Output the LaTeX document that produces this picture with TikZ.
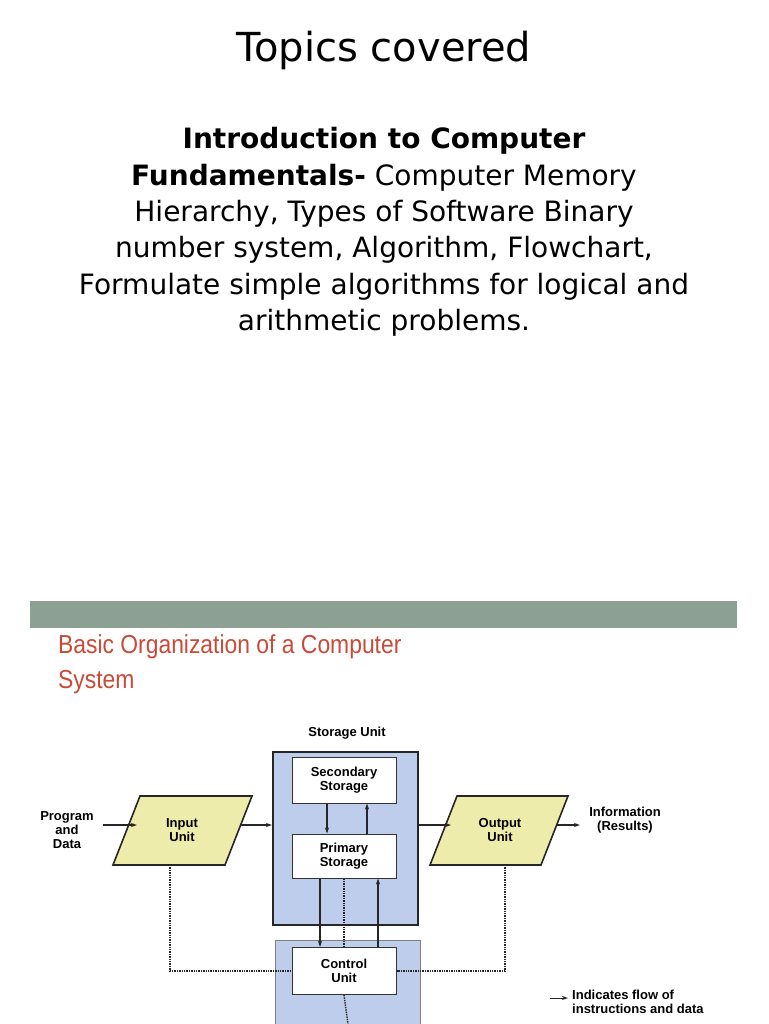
\documentclass[tikz,border=0pt]{standalone}
\usepackage{fontspec}
\setmainfont{DejaVu Sans}
\newfontfamily\ars{Liberation Sans}
\usetikzlibrary{arrows.meta,shapes.geometric}
\definecolor{bar}{RGB}{141,160,148}
\definecolor{ttl}{RGB}{200,75,55}
\definecolor{sblue}{RGB}{190,205,235}
\definecolor{yel}{RGB}{238,236,170}
\begin{document}
\begin{tikzpicture}[x=1pt,y=-1pt,
  lbl/.style={font=\ars\bfseries\fontsize{13}{14}\selectfont,align=center,inner sep=0pt},
  box/.style={draw=black!80,line width=1pt,fill=white},
  para/.style={draw=black!85,line width=1.6pt,fill=yel},
  fl/.style={-{Stealth[length=6pt,width=4pt]},line width=1.2pt,black!85},
  dt/.style={densely dotted,line width=1.4pt,black!85}]
\useasboundingbox (0,0) rectangle (768,1024);
\node (h) at (384,50) {\fontsize{40}{44}\selectfont Topics covered};
\node[align=center,font=\fontsize{28}{36.3}\selectfont] (body) at (384,232)
 {\textbf{Introduction to Computer}\\\textbf{Fundamentals-} Computer Memory\\Hierarchy, Types of Software Binary\\number system, Algorithm, Flowchart,\\Formulate simple algorithms for logical and\\arithmetic problems.};
\fill[bar] (30,601) rectangle (737,628);
\node[anchor=west,align=left,text=ttl,font=\ars\fontsize{26}{35}\selectfont,xscale=0.88] (t) at (55,664) {Basic Organization of a Computer\\System};
% storage
\node[lbl] (su) at (347,733) {Storage Unit};
\draw[fill=sblue,draw=black!85,line width=2pt] (273,752) rectangle (418,925);
\node[box,minimum width=104pt,minimum height=46pt,lbl] (sec) at (344,780) {Secondary\\Storage};
\node[box,minimum width=104pt,minimum height=44pt,lbl] (pri) at (344,856) {Primary\\Storage};
\draw[fill=sblue,draw=black!50,line width=1pt] (275,940) -- (275,1030) (420,1030) -- (420,940) -- (275,940);
\fill[sblue] (276,941) rectangle (419,1030);
\draw[black!50,line width=1pt] (275,940) -- (275,1030) (420,1030) -- (420,940) -- (275,940);
\node[box,minimum width=104pt,minimum height=47pt,lbl] (cu) at (344,971) {Control\\Unit};
% parallelograms
\draw[para] (140,796) -- (252,796) -- (225,865) -- (113,865) -- cycle;
\node[lbl] (in) at (182,830) {Input\\Unit};
\draw[para] (457,796) -- (568,796) -- (541,865) -- (430,865) -- cycle;
\node[lbl] (out) at (500,830) {Output\\Unit};
\node[lbl] (pd) at (67,830) {Program\\and\\Data};
\node[lbl] (info) at (625,820) {Information\\(Results)};
% flows
\coordinate (a1) at (103,825); \coordinate (a2) at (137,825);
\draw[fl] (a1) -- (a2);
\coordinate (b1) at (240,825); \coordinate (b2) at (272,825);
\draw[fl] (b1) -- (b2);
\coordinate (c1) at (419,825); \coordinate (c2) at (451,825);
\draw[fl] (c1) -- (c2);
\coordinate (d1) at (556,825); \coordinate (d2) at (580,825);
\draw[fl] (d1) -- (d2);
\draw[fl] ([xshift=-17pt]sec.south) -- ([xshift=-17pt]pri.north);
\draw[fl] ([xshift=23pt]pri.north) -- ([xshift=23pt]sec.south);
\draw[fl] ([xshift=-24pt]pri.south) -- ([xshift=-24pt]cu.north);
\draw[fl] ([xshift=34pt]cu.north) -- ([xshift=34pt]pri.south);
\draw[dt] (pri.south) -- (cu.north);
\coordinate (bot) at (348,1024);
\draw[dt] (cu.south) -- (bot);
\draw[dt] (170,865) |- (cu.west);
\draw[dt] (505,865) |- (cu.east);
% legend
\coordinate (l1) at (550,998); \coordinate (l2) at (568,998);
\draw[fl,line width=1pt] (l1) -- (l2);
\node[lbl,anchor=north west,align=left] (leg) at (572,990) {Indicates flow of\\instructions and data};
\end{tikzpicture}
\end{document}
